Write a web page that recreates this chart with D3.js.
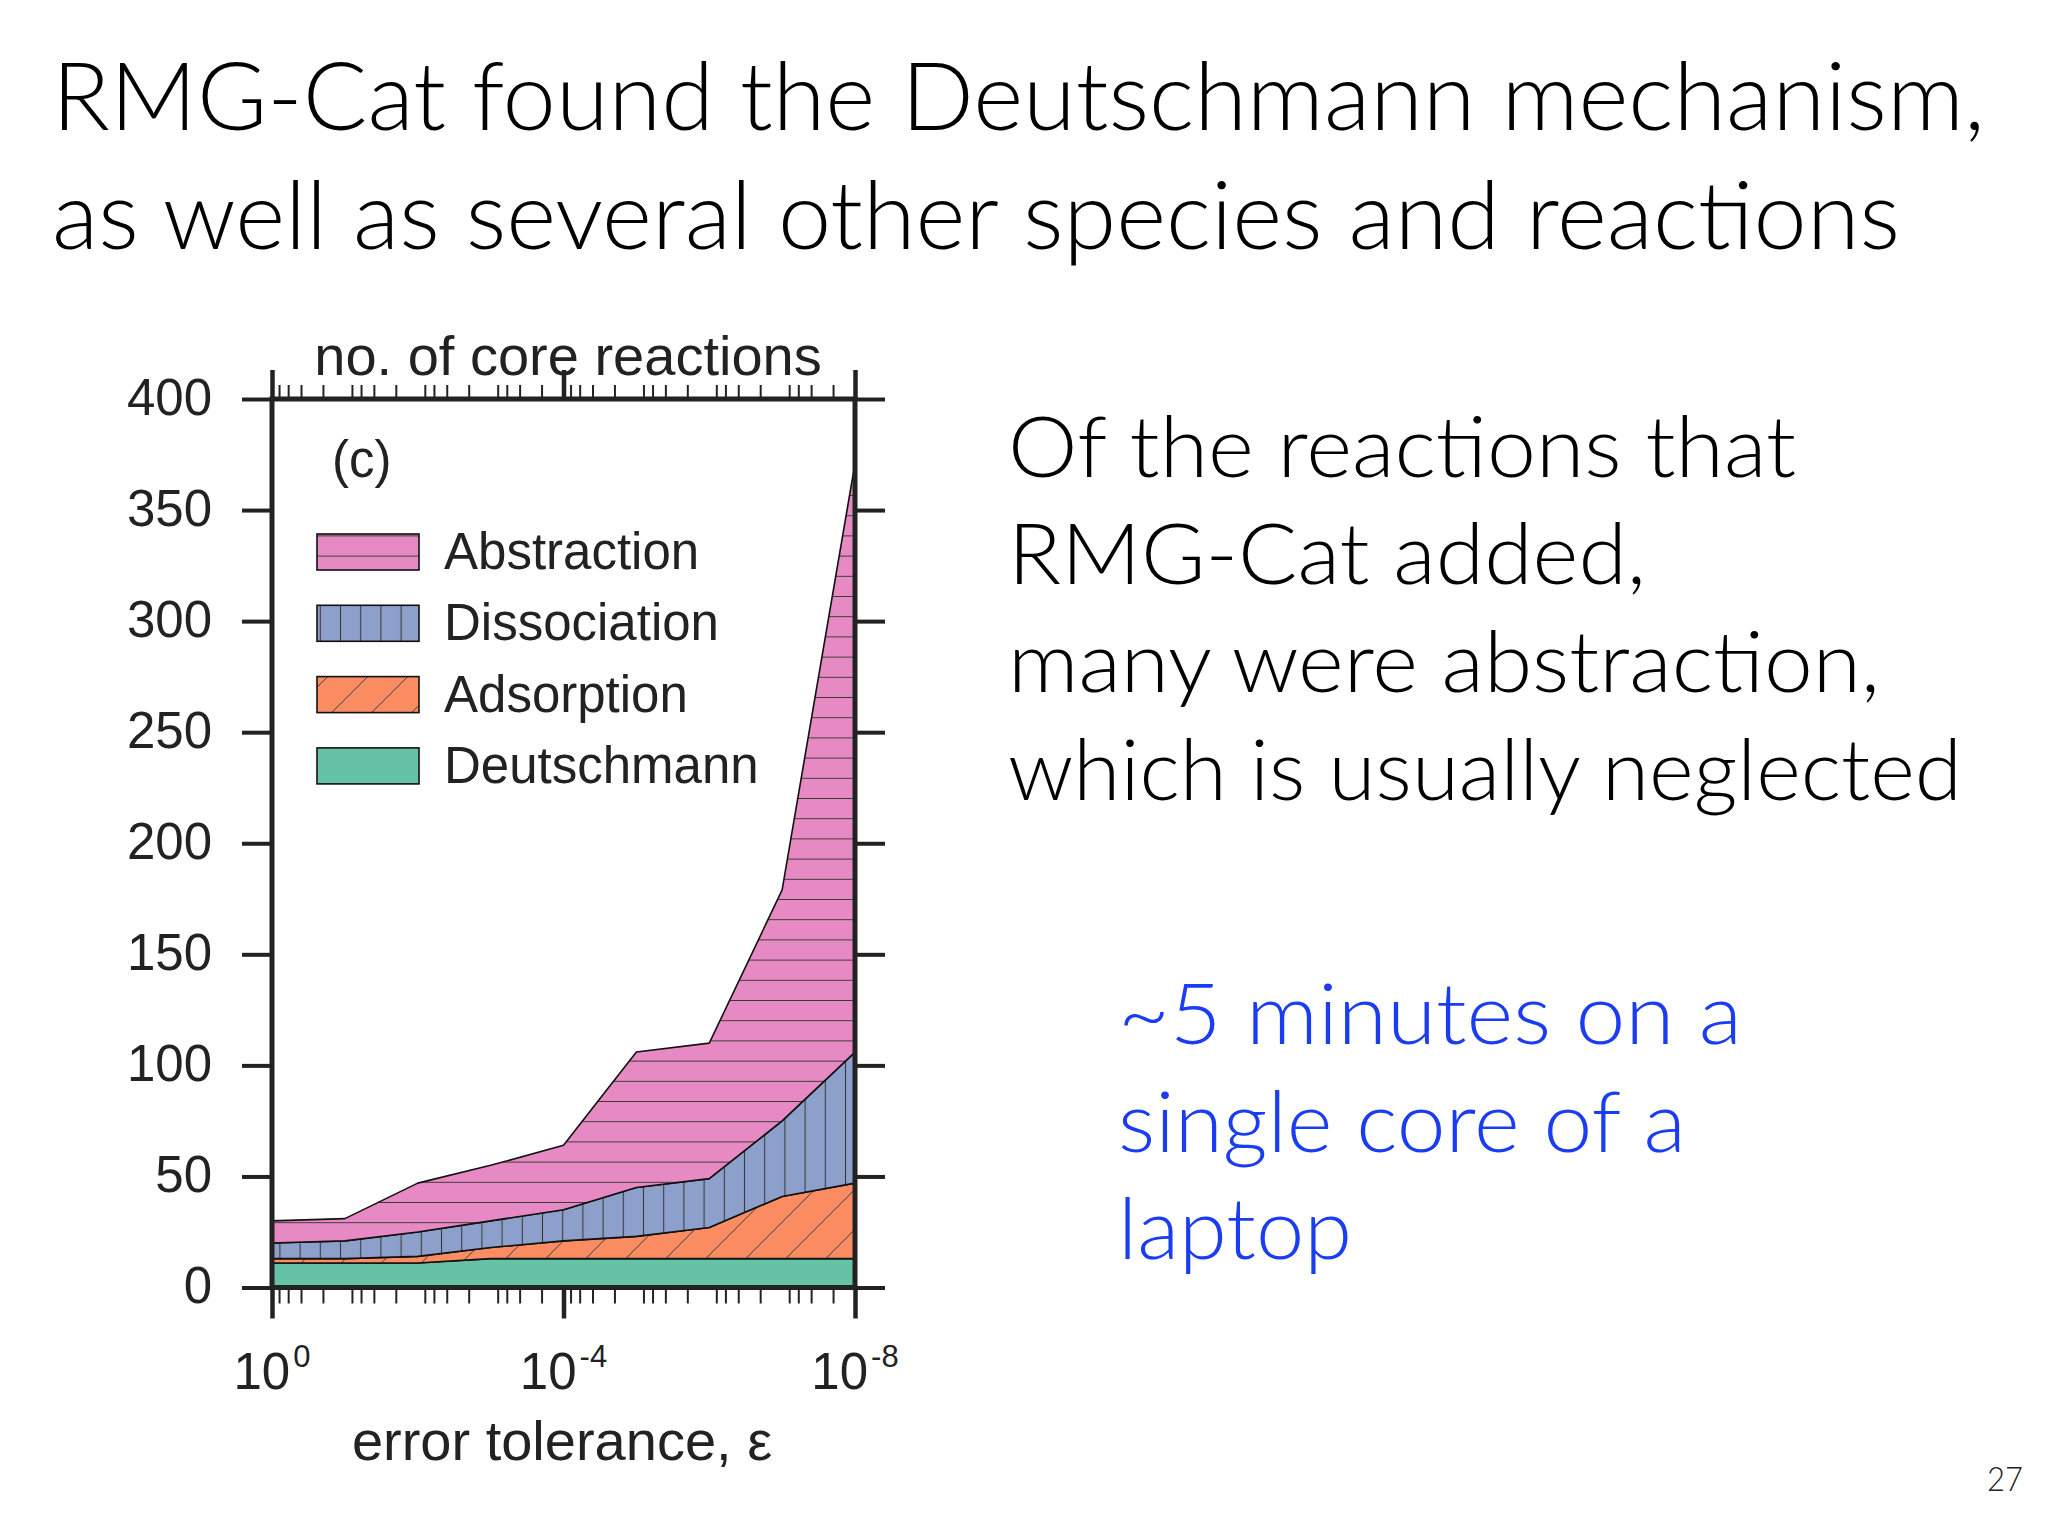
<!DOCTYPE html>
<html>
<head>
<meta charset="utf-8">
<script src="https://cdn.jsdelivr.net/npm/d3@7"></script>
<style>
  html, body { margin: 0; padding: 0; background: #fff; }
  svg { display: block; }
</style>
</head>
<body>
<svg id="slide" width="2048" height="1536"></svg>
<script>
// ---------------- data ----------------
const tolerances   = [1e0, 1e-1, 1e-2, 1e-3, 1e-4, 1e-5, 1e-6, 1e-7, 1e-8];
const deutschmann  = [11, 11, 11, 13, 13, 13, 13, 13, 13];
const adsorption   = [2, 2, 3, 5, 8, 10, 14, 28, 34];
const dissociation = [7, 8, 11, 12, 14, 22, 22, 34, 59];
const abstraction  = [10, 10, 22, 25, 29, 61, 61, 104, 265];
const seriesNames  = ["Deutschmann", "Adsorption", "Dissociation", "Abstraction"];
const legendOrder  = ["Abstraction", "Dissociation", "Adsorption", "Deutschmann"];
const yTicks       = [0, 50, 100, 150, 200, 250, 300, 350, 400];
const xMajorExps   = [0, -4, -8];
const minorMults   = [2, 4, 6, 8];
const titleLines   = ["RMG-Cat found the Deutschmann mechanism,", "as well as several other species and reactions"];
const sideLines    = ["Of the reactions that", "RMG-Cat added,", "many were abstraction,", "which is usually neglected"];
const blueLines    = ["~5 minutes on a", "single core of a", "laptop"];
const pageNumber   = "27";

const colors = { Deutschmann: "#66c2a5", Adsorption: "#fc8d62", Dissociation: "#8da0cb", Abstraction: "#e78ac3" };
const hatch  = { Deutschmann: null, Adsorption: "hatch-diag", Dissociation: "hatch-vert", Abstraction: "hatch-horz" };

// ---------------- svg ----------------
const svg = d3.select("#slide");
svg.append("rect").attr("width", 2048).attr("height", 1536).attr("fill", "#fff");

const slideFont = "Lato, 'Open Sans', 'DejaVu Sans', sans-serif";
function slideText(str, x, y, size, width, color) {
  svg.append("text")
    .attr("x", x).attr("y", y)
    .attr("font-family", slideFont).attr("font-weight", 300)
    .attr("font-size", size).attr("fill", color)
    .attr("textLength", width).attr("lengthAdjust", "spacingAndGlyphs")
    .text(str);
}
// title
const titleEnds = [1985, 1900];
titleLines.forEach((t, i) => slideText(t, 52, [130, 249][i], 94, titleEnds[i] - 52, "#000"));
// side text
const sideEnds = [1796, 1646, 1880, 1962];
sideLines.forEach((t, i) => slideText(t, 1008, [477, 584, 692, 800][i], 84, sideEnds[i] - 1008, "#000"));
// blue text
const blueEnds = [1742, 1686, 1352];
blueLines.forEach((t, i) => slideText(t, 1118, [1044, 1152, 1259][i], 84, blueEnds[i] - 1118, "#1a3cf2"));
// page number
slideText(pageNumber, 1987, 1491, 34, 36, "#222");

// ---------------- chart ----------------
const L = 272, R = 855, T = 399, B = 1287.5;
const x = d3.scaleLog().domain([1, 1e-8]).range([L, R]);
const y = d3.scaleLinear().domain([0, 400]).range([B, T]);
const chartFont = "'Liberation Sans', Arial, Helvetica, sans-serif";
const axisColor = "#222";

// hatch patterns
const defs = svg.append("defs");
const hatchStroke = "#3a3a3a";
const ph = defs.append("pattern").attr("id", "hatch-horz").attr("patternUnits", "userSpaceOnUse")
  .attr("x", 0).attr("y", 0.6).attr("width", 40).attr("height", 20.2);
ph.append("line").attr("x1", 0).attr("x2", 40).attr("y1", 10.1).attr("y2", 10.1)
  .attr("stroke", hatchStroke).attr("stroke-width", 1.1);
const pv = defs.append("pattern").attr("id", "hatch-vert").attr("patternUnits", "userSpaceOnUse")
  .attr("x", 7.2).attr("y", 0).attr("width", 20.2).attr("height", 40);
pv.append("line").attr("x1", 10.1).attr("x2", 10.1).attr("y1", 0).attr("y2", 40)
  .attr("stroke", hatchStroke).attr("stroke-width", 1.1);
const pd = defs.append("pattern").attr("id", "hatch-diag").attr("patternUnits", "userSpaceOnUse")
  .attr("x", 0).attr("y", 4.3).attr("width", 40).attr("height", 40);
[[-10, 10, 10, -10], [0, 40, 40, 0], [30, 50, 50, 30]].forEach(s =>
  pd.append("line").attr("x1", s[0]).attr("y1", s[1]).attr("x2", s[2]).attr("y2", s[3])
    .attr("stroke", hatchStroke).attr("stroke-width", 1.0));

defs.append("clipPath").attr("id", "plotclip").append("rect")
  .attr("x", L).attr("y", T).attr("width", R - L).attr("height", B - T);

// stacked data
const table = tolerances.map((t, i) => ({
  tol: t,
  Deutschmann: deutschmann[i],
  Adsorption: adsorption[i],
  Dissociation: dissociation[i],
  Abstraction: abstraction[i]
}));
const stacked = d3.stack().keys(seriesNames)(table);
const area = d3.area().x(d => x(d.data.tol)).y0(d => y(d[0])).y1(d => y(d[1]));

const plot = svg.append("g").attr("clip-path", "url(#plotclip)");
stacked.forEach(layer => {
  const k = layer.key;
  plot.append("path").attr("d", area(layer)).attr("fill", colors[k]);
  if (hatch[k]) plot.append("path").attr("d", area(layer)).attr("fill", `url(#${hatch[k]})`);
  plot.append("path").attr("d", area(layer)).attr("fill", "none")
    .attr("stroke", "#111").attr("stroke-width", 1.6).attr("stroke-linejoin", "round");
});

// axes
const minorVals = [];
for (let k = -1; k >= -8; k--) minorMults.slice().reverse().forEach(m => minorVals.push(m * Math.pow(10, k)));
const majorVals = xMajorExps.map(e => Math.pow(10, e));

function styleAxis(g, w) {
  g.select(".domain").remove();
  g.selectAll(".tick line").attr("stroke", axisColor).attr("stroke-width", w);
}
svg.append("g").attr("transform", `translate(0,${B})`)
  .call(d3.axisBottom(x).tickValues(minorVals).tickSize(16).tickFormat(""))
  .call(g => styleAxis(g, 2));
svg.append("g").attr("transform", `translate(0,${T})`)
  .call(d3.axisTop(x).tickValues(minorVals).tickSize(14).tickFormat(""))
  .call(g => styleAxis(g, 2));
svg.append("g").attr("transform", `translate(0,${B})`)
  .call(d3.axisBottom(x).tickValues(majorVals).tickSize(31).tickFormat(""))
  .call(g => styleAxis(g, 4.5));
svg.append("g").attr("transform", `translate(0,${T})`)
  .call(d3.axisTop(x).tickValues(majorVals).tickSize(29).tickFormat(""))
  .call(g => styleAxis(g, 4.5));

// y axes
const yl = svg.append("g").attr("transform", `translate(${L},0)`)
  .call(d3.axisLeft(y).tickValues(yTicks).tickSize(30).tickPadding(30).tickFormat(d3.format("d")))
  .call(g => styleAxis(g, 4));
yl.selectAll(".tick text").attr("font-family", chartFont).attr("font-size", 51).attr("fill", "#222")
  .attr("dy", "0.3em");
svg.append("g").attr("transform", `translate(${R},0)`)
  .call(d3.axisRight(y).tickValues(yTicks).tickSize(30).tickFormat(""))
  .call(g => styleAxis(g, 4));

// frame
svg.append("rect").attr("x", L).attr("y", T).attr("width", R - L).attr("height", B - T)
  .attr("fill", "none").attr("stroke", axisColor).attr("stroke-width", 5);

// x tick labels with superscripts
xMajorExps.forEach(e => {
  const t = svg.append("text").attr("x", x(Math.pow(10, e))).attr("y", 1389)
    .attr("text-anchor", "middle").attr("font-family", chartFont).attr("fill", "#222");
  t.append("tspan").attr("font-size", 51).text("10");
  t.append("tspan").attr("font-size", 31).attr("dy", -22).attr("dx", 3).text(String(e));
});

// axis titles
svg.append("text").attr("x", 562).attr("y", 1460).attr("text-anchor", "middle")
  .attr("font-family", chartFont).attr("font-size", 56).attr("fill", "#222")
  .text("error tolerance, ε");
svg.append("text").attr("x", 568).attr("y", 375).attr("text-anchor", "middle")
  .attr("font-family", chartFont).attr("font-size", 56).attr("fill", "#222")
  .text("no. of core reactions");

// panel label
svg.append("text").attr("x", 332).attr("y", 477)
  .attr("font-family", chartFont).attr("font-size", 51).attr("fill", "#222").text("(c)");

// legend
legendOrder.forEach((k, i) => {
  const top = 534 + i * 71.3;
  svg.append("rect").attr("x", 317).attr("y", top).attr("width", 102).attr("height", 36)
    .attr("fill", colors[k]);
  if (hatch[k]) svg.append("rect").attr("x", 317).attr("y", top).attr("width", 102).attr("height", 36)
    .attr("fill", `url(#${hatch[k]})`);
  svg.append("rect").attr("x", 317).attr("y", top).attr("width", 102).attr("height", 36)
    .attr("fill", "none").attr("stroke", "#111").attr("stroke-width", 1.6);
  svg.append("text").attr("x", 444).attr("y", top + 35)
    .attr("font-family", chartFont).attr("font-size", 51).attr("fill", "#222").text(k);
});
</script>
</body>
</html>
